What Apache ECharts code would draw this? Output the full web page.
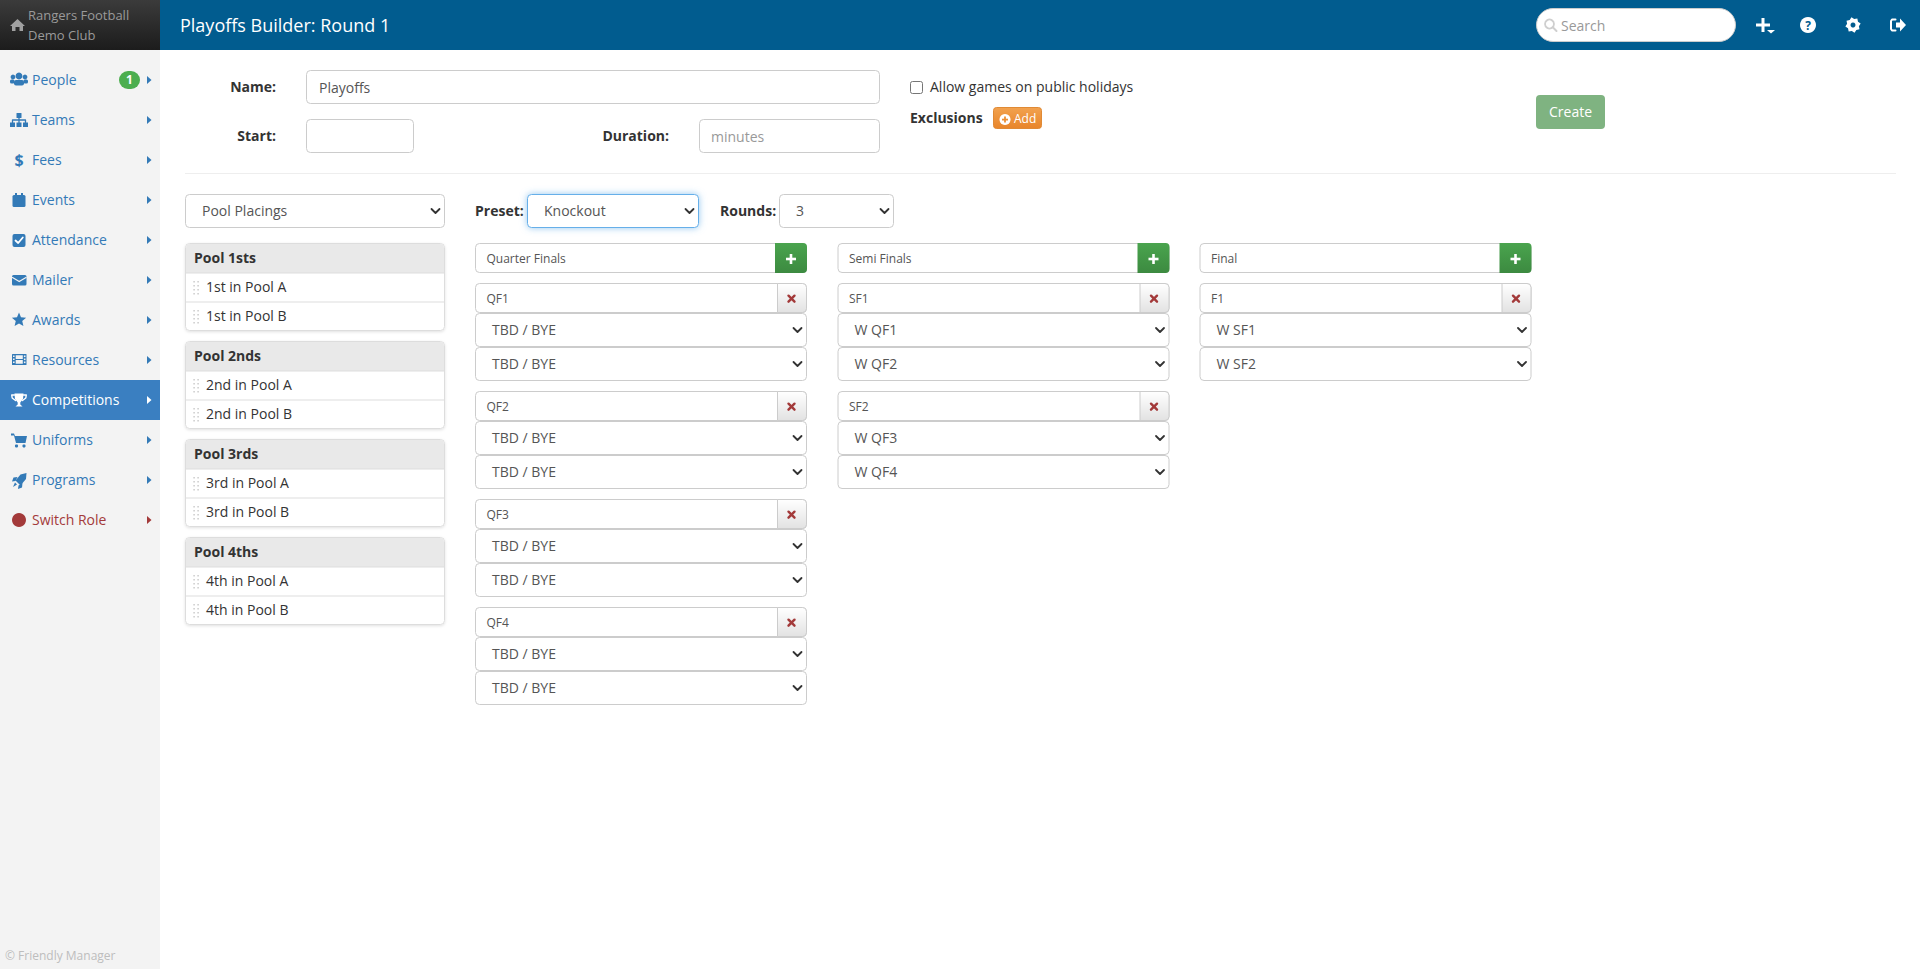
<!DOCTYPE html>
<html><head><meta charset="utf-8">
<style>html,body{margin:0;padding:0;background:#fff}#c{width:1920px;height:969px}</style>
<script src="https://cdn.jsdelivr.net/npm/echarts@6/dist/echarts.min.js"></script>
</head><body><div id="c"></div>
<script>
const brandLines = ['Rangers Football', 'Demo Club'];
const pageTitle = 'Playoffs Builder: Round 1';
const navLabels = ['People','Teams','Fees','Events','Attendance','Mailer','Awards','Resources','Competitions','Uniforms','Programs','Switch Role'];
const peopleBadge = '1';
const footerText = '© Friendly Manager';
const poolTitles = ['Pool 1sts','Pool 2nds','Pool 3rds','Pool 4ths'];
const poolRowsA = ['1st in Pool A','2nd in Pool A','3rd in Pool A','4th in Pool A'];
const poolRowsB = ['1st in Pool B','2nd in Pool B','3rd in Pool B','4th in Pool B'];
const roundNames = ['Quarter Finals','Semi Finals','Final'];
const qfMatches = ['QF1','QF2','QF3','QF4'];
const sfMatches = ['SF1','SF2'];
const finalMatches = ['F1'];
const qfSlots = [['TBD / BYE','TBD / BYE'],['TBD / BYE','TBD / BYE'],['TBD / BYE','TBD / BYE'],['TBD / BYE','TBD / BYE']];
const sfSlots = [['W QF1','W QF2'],['W QF3','W QF4']];
const finalSlots = [['W SF1','W SF2']];

const FONT = '"Open Sans", sans-serif';
const BLUE = '#337ab7', RED = '#a33a3a', HDR = '#015c8f';
const els = [];
function rect(x,y,w,h,o){o=o||{};els.push({type:'rect',silent:true,shape:{x,y,width:w,height:h,r:o.r||0},style:{fill:o.fill||'none',stroke:o.stroke||'none',lineWidth:o.lw||1,shadowBlur:o.blur||0,shadowColor:o.sc||'transparent',shadowOffsetY:o.oy||0}});}
function text(x,y,s,o){o=o||{};els.push({type:'text',silent:true,x,y:y-1,style:{text:s,fill:o.color||'#333',fontFamily:FONT,fontSize:o.size||14,fontWeight:o.weight||'normal',align:o.align||'left',verticalAlign:'middle'}});}
function poly(p,fill){els.push({type:'polygon',silent:true,shape:{points:p},style:{fill}});}
function pline(p,stroke,lw){els.push({type:'polyline',silent:true,shape:{points:p},style:{fill:'none',stroke,lineWidth:lw||1,lineCap:'round',lineJoin:'round'}});}
function circ(x,y,r,fill,stroke,lw){els.push({type:'circle',silent:true,shape:{cx:x,cy:y,r},style:{fill:fill||'none',stroke:stroke||'none',lineWidth:lw||1}});}
function vgrad(a,b){return {type:'linear',x:0,y:0,x2:0,y2:1,colorStops:[{offset:0,color:a},{offset:1,color:b}]};}
function chevron(x,y){pline([[x-4,y-2],[x,y+2],[x+4,y-2]],'#333',1.8);}
function select(x,y,w,h,s,tx,o){o=o||{};rect(x,y,w,h,{fill:'#fff',stroke:o.stroke||'#ccc',r:4,blur:o.blur,sc:o.sc});text(tx,y+h/2+0.5,s,{color:'#555'});chevron(x+w-9,y+h/2);}

/* frame */
rect(0,0,160,969,{fill:'#f3f3f3'});
rect(0,0,160,50,{fill:vgrad('#3b3b3b','#1c1c1c')});
rect(160,0,1760,50,{fill:HDR});
/* brand */
poly([[17.5,19],[25,26],[23,26],[23,31],[19.5,31],[19.5,27],[15.5,27],[15.5,31],[12,31],[12,26],[10,26]],'#a0a0a0');
text(28,15.5,brandLines[0],{size:13,color:'#9a9a9a'});
text(28,35.5,brandLines[1],{size:13,color:'#9a9a9a'});
text(180,25.5,pageTitle,{size:18,color:'#fff'});

/* sidebar */
rect(0,380,160,40,{fill:'#3a7fc1'});
navLabels.forEach((s,i)=>{
  const y=80+i*40, c=i===8?'#fff':i===11?RED:BLUE;
  text(32,y,s,{color:c});
  poly([[147,y-4],[151.5,y],[147,y+4]],c);
});
rect(119,71,21,18,{fill:'#4cae4f',r:9});
text(129.5,80.5,peopleBadge,{size:12,weight:'bold',color:'#fff',align:'center'});
/* nav icons */
circ(19,76,3.4,BLUE);circ(13,77,2.4,BLUE);circ(25,77,2.4,BLUE);
rect(14,80,10,5.5,{fill:BLUE,r:2});rect(10,79.5,4.5,4,{fill:BLUE,r:1.5});rect(23.5,79.5,4.5,4,{fill:BLUE,r:1.5});
rect(16.5,113,5,5,{fill:BLUE,r:.5});pline([[12.5,123],[12.5,120],[25.5,120],[25.5,123]],BLUE,1.3);pline([[19,118],[19,123]],BLUE,1.3);
rect(10,122.5,5,4.5,{fill:BLUE});rect(16.5,122.5,5,4.5,{fill:BLUE});rect(23,122.5,5,4.5,{fill:BLUE});
text(19,161,'$',{size:16,weight:'bold',color:BLUE,align:'center'});
rect(12.5,195,13,12,{fill:BLUE,r:1.5});rect(15,193,2,4,{fill:BLUE});rect(21,193,2,4,{fill:BLUE});
rect(12.5,234,13,13,{fill:BLUE,r:2});pline([[15.5,240.5],[18.2,243],[22.8,237.5]],'#fff',1.8);
rect(12,275,14.5,10.5,{fill:BLUE,r:1.5});pline([[12.5,277.5],[19.2,281.5],[26,277.5]],'#f3f3f3',1.3);
const star=[];for(let i=0;i<10;i++){const a=-Math.PI/2+i*Math.PI/5,r=i%2?3.4:7.5;star.push([19+r*Math.cos(a),320+r*Math.sin(a)]);}poly(star,BLUE);
rect(12,354,14.5,11,{fill:BLUE,r:.5});
rect(15.7,355.2,7.1,3.7,{fill:'#f3f3f3'});rect(15.7,360.1,7.1,3.7,{fill:'#f3f3f3'});
[355.5,358.5,361.5].forEach(v=>{rect(13,v,1.6,1.6,{fill:'#f3f3f3'});rect(23.9,v,1.6,1.6,{fill:'#f3f3f3'});});
poly([[14.5,393.5],[23.5,393.5],[23,399],[20.3,402.5],[20.3,404.5],[22.5,406.5],[15.5,406.5],[17.7,404.5],[17.7,402.5],[15,399]],'#fff');
pline([[14.5,395],[11.7,395],[12.2,398],[15.5,400.5]],'#fff',1.4);pline([[23.5,395],[26.3,395],[25.8,398],[22.5,400.5]],'#fff',1.4);
poly([[11,433.5],[14,433.5],[15,436],[27,436],[25.5,443],[16,443],[14,435.5],[11,435.5]],BLUE);circ(16.5,446,1.6,BLUE);circ(24,446,1.6,BLUE);
poly([[26.5,473],[26,479],[20.5,485.5],[15.5,480.5],[20.5,474.5]],BLUE);
poly([[17.5,477],[13.5,477.5],[12,481.5],[15.5,481]],BLUE);poly([[22.5,483],[22,487.5],[18,489],[18.5,485.5]],BLUE);
poly([[15,482.5],[17,484.5],[13,487]],BLUE);
circ(19,520,7,RED);
text(5,956,footerText,{size:12,color:'#bdbdbd'});

/* top search + icons */
rect(1536.5,8.5,199,33,{fill:'#fff',stroke:'#ccc',r:16.5});
circ(1549.5,24,4.5,null,'#cfcfcf',1.8);pline([[1553,27.5],[1556.5,31]],'#cfcfcf',2);
text(1561,26,'Search',{color:'#999'});
rect(1756,23.5,14,3,{fill:'#fff'});rect(1761.5,18,3,14,{fill:'#fff'});poly([[1767,30],[1775,30],[1771,33.5]],'#fff');
circ(1808,25,8,'#fff');text(1808,26,'?',{size:12,weight:'bold',color:HDR,align:'center'});
const gear=[];for(let i=0;i<16;i++){const a=i*Math.PI/8+Math.PI/16,r=(i%2)?7.8:6;gear.push([1853+r*Math.cos(a),25+r*Math.sin(a)]);}poly(gear,'#fff');circ(1853,25,2.5,HDR);
pline([[1895.5,19.5],[1892,19.5],[1891,21],[1891,29],[1892,30.5],[1895.5,30.5]],'#fff',2);
poly([[1896,22.5],[1900,22.5],[1900,18.5],[1906,25],[1900,31.5],[1900,27.5],[1896,27.5]],'#fff');

/* form */
text(276,87.5,'Name:',{weight:'bold',align:'right'});
rect(306.5,70.5,573,33,{fill:'#fff',stroke:'#ccc',r:4});text(319,88,'Playoffs',{color:'#555'});
text(276,136,'Start:',{weight:'bold',align:'right'});
rect(306.5,119.5,107,33,{fill:'#fff',stroke:'#ccc',r:4});
text(669,136,'Duration:',{weight:'bold',align:'right'});
rect(699.5,119.5,180,33,{fill:'#fff',stroke:'#ccc',r:4});text(711,137,'minutes',{color:'#999'});
rect(910.5,81.5,12,12,{fill:'#fff',stroke:'#767676',r:2});
text(930,87,'Allow games on public holidays');
text(910,118.5,'Exclusions',{weight:'bold'});
rect(993.5,107.5,48,21,{fill:vgrad('#f2a24f','#e8852a'),stroke:'#e08a35',r:3});
circ(1005,119.5,5.5,'#fff');rect(1002,118.7,6,1.8,{fill:'#ec8f35'});rect(1004.1,116.5,1.8,6,{fill:'#ec8f35'});
text(1014,119.5,'Add',{size:12,color:'#fff'});
rect(1536,95,69,34,{fill:'#7fb381',r:4});text(1570.5,112.5,'Create',{color:'#fff',align:'center'});
rect(185,173,1711,1,{fill:'#eeeeee'});

/* pools */
select(185.5,194.5,259,33,'Pool Placings',202);
poolTitles.forEach((t,i)=>{
  const y=243.5+i*98;
  rect(185.5,y,259,87,{fill:'#fff',stroke:'#ddd',r:4,blur:3,sc:'rgba(0,0,0,.12)',oy:1});
  rect(186,y+.5,258,29,{fill:'#e9e9e9',r:[4,4,0,0]});
  rect(186,y+29,258,1,{fill:'#ddd'});
  rect(186,y+58,258,1,{fill:'#ddd'});
  text(194,y+15,t,{weight:'bold'});
  [poolRowsA[i],poolRowsB[i]].forEach((s,k)=>{
    const ry=y+43.5+k*29;
    text(206,ry,s);
    for(let a=0;a<4;a++)for(let b=0;b<2;b++)rect(193.3+b*4,ry-6+a*4,1.6,1.6,{fill:'#cfcfcf'});
  });
});

/* preset row */
text(475,211,'Preset:',{weight:'bold'});
select(527.5,194.5,171,33,'Knockout',544,{stroke:'#66afe9',blur:7,sc:'rgba(102,175,233,.7)'});
text(720,211,'Rounds:',{weight:'bold'});
select(779.5,194.5,114,33,'3',796);

/* rounds */
function roundColumn(x,title,matches,slots){
  rect(x,243.5,331,29,{fill:'#fff',stroke:'#ccc',r:4});
  text(x+11,259,title,{size:12,color:'#555'});
  rect(x+299.5,243,32,30,{fill:vgrad('#4aa44e','#3c8a40'),r:[0,4,4,0]});
  rect(x+310.5,257.7,10,2.6,{fill:'#fff'});rect(x+314.2,254,2.6,10,{fill:'#fff'});
  matches.forEach((m,i)=>{
    const y=283.5+i*108;
    rect(x,y,331,29,{fill:'#fff',stroke:'#ccc',r:4});
    text(x+11,y+15.5,m,{size:12,color:'#555'});
    rect(x+302,y,29,29,{fill:vgrad('#ffffff','#e2e2e2'),stroke:'#ccc',r:[0,4,4,0]});
    const cx=x+316,cy=y+15.2;
    pline([[cx-3,cy-3],[cx+3,cy+3]],RED,2.4);pline([[cx+3,cy-3],[cx-3,cy+3]],RED,2.4);
    select(x,y+30,331,33,slots[i][0],x+16.5);
    select(x,y+64,331,33,slots[i][1],x+16.5);
  });
}
roundColumn(475.5,roundNames[0],qfMatches,qfSlots);
roundColumn(838,roundNames[1],sfMatches,sfSlots);
roundColumn(1200,roundNames[2],finalMatches,finalSlots);

const chart=echarts.init(document.getElementById('c'),null,{renderer:'svg',width:1920,height:969});
chart.setOption({animation:false,backgroundColor:'#fff',graphic:{elements:els}});
</script></body></html>
